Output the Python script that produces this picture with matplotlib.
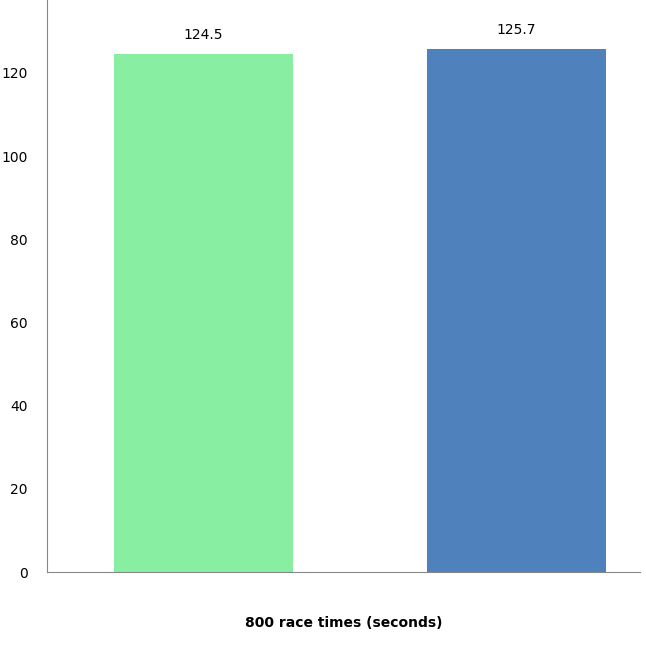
import matplotlib
matplotlib.use("Agg")
import matplotlib.pyplot as plt

categories = ["A", "B"]
values = [124.5, 125.7]
colors = ["#88eea2", "#4f81bd"]
yticks = [0, 20, 40, 60, 80, 100, 120]

fig = plt.figure(figsize=(6.46, 6.46), dpi=100)
ax = fig.add_axes([47 / 646, 74 / 646, 593 / 646, 572 / 646])
x = range(len(values))
bars = ax.bar(x, values, width=0.572, color=colors)
for b, v in zip(bars, values):
    ax.text(b.get_x() + b.get_width() / 2, v + 3, f"{v}", ha="center", va="bottom", fontsize=10)

ax.set_xlim(-0.5, 1.395)
ax.set_ylim(0, 137.5)
ax.set_yticks(yticks)
ax.set_xticks([])
ax.tick_params(axis="y", length=0, labelsize=10, pad=14)
for s in ["top", "right"]:
    ax.spines[s].set_visible(False)
for s in ["left", "bottom"]:
    ax.spines[s].set_color("#888888")
ax.set_xlabel("800 race times (seconds)", fontsize=10, fontweight="bold", labelpad=32)

fig.savefig("out.png", dpi=100)
